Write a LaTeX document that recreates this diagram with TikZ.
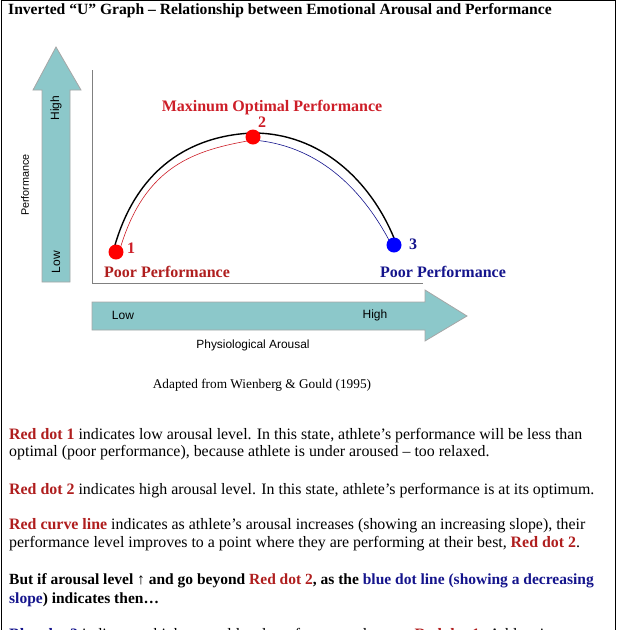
\documentclass[tikz,border=0pt]{standalone}
\usepackage{fontspec}
\setmainfont{Liberation Serif}
\newfontfamily\arial{Liberation Sans}
\definecolor{teal1}{RGB}{140,200,202}
\definecolor{rd}{RGB}{205,30,40}
\definecolor{dr}{RGB}{175,30,30}
\definecolor{bl}{RGB}{20,20,140}
\begin{document}
\begin{tikzpicture}[x=1pt,y=-1pt,
  body/.style={anchor=base west,inner sep=0,font=\fontsize{15.9}{18}\selectfont},
  lbl/.style={inner sep=0,font=\fontsize{16}{18}\selectfont\bfseries},
  sans/.style={inner sep=0,font=\arial\fontsize{12}{14}\selectfont},
  arr/.style={fill=teal1,draw=gray!70,line width=0.8pt}]
\useasboundingbox (0,0) rectangle (621,630);
\clip (0,0) rectangle (621,630);
\draw[line width=0.8pt] (1,640) -- (1,0.5) -- (615,0.5) -- (615,640);
\node[anchor=base west,inner sep=0,font=\fontsize{15.6}{18}\selectfont\bfseries] (title) at (8,14) {Inverted “U” Graph – Relationship between Emotional Arousal and Performance};
% arrows
\draw[arr] (42,282) -- (42,90) -- (33,90) -- (56,47) -- (81,90) -- (70,90) -- (70,282) -- cycle;
\draw[arr] (92,302) -- (425,302) -- (425,290) -- (467,316) -- (425,341) -- (425,330) -- (92,330) -- cycle;
\draw[gray,line width=0.8pt] (92,70) -- (92,283) -- (423,283);
\node[sans,rotate=90] (hi) at (56,108) {High};
\node[sans,rotate=90] (lo) at (56,262) {Low};
\node[sans,rotate=90,font=\arial\fontsize{10.8}{12}\selectfont] (perf) at (25,185) {Performance};
\node[sans] (xlo) at (123,315) {Low};
\node[sans] (xhi) at (375,315) {High};
\node[sans,font=\arial\fontsize{11.9}{13}\selectfont] (phys) at (253,345) {Physiological Arousal};
% curves
\coordinate (c1) at (115,245); \coordinate (c2) at (253,133); \coordinate (c3) at (394,238);
\draw[line width=1.4pt] (c1) .. controls (140,160) and (200,135) .. (c2) .. controls (320,133) and (370,180) .. (c3);
\draw[rd,line width=0.6pt] (120,249) .. controls (145,165) and (195,150) .. (253,140);
\draw[bl,line width=0.6pt] (253,140) .. controls (315,145) and (360,185) .. (390,242);
\node[circle,fill=red,inner sep=0,minimum size=15pt] (d1) at (116,252) {};
\node[circle,fill=red,inner sep=0,minimum size=15pt] (d2) at (253,137) {};
\node[circle,fill=blue,inner sep=0,minimum size=15pt] (d3) at (394,245) {};
\node[lbl,rd] (n1) at (131,248) {1};
\node[lbl,rd] (n2) at (262,122) {2};
\node[lbl,bl] (n3) at (413,244) {3};
\node[lbl,rd] (max) at (272,108) {Maxinum Optimal Performance};
\node[lbl,dr] (p1) at (167,272) {Poor Performance};
\node[lbl,bl] (p3) at (443,272) {Poor Performance};
\node[inner sep=0,font=\fontsize{13.3}{15}\selectfont] (src) at (262,385) {Adapted from Wienberg \& Gould (1995)};
% text
\node[body] (t1) at (9,439) {\textcolor{dr}{\bfseries Red dot 1} indicates low arousal level. In this state, athlete’s performance will be less than};
\node[body] (t1b) at (9,456) {optimal (poor performance), because athlete is under aroused – too relaxed.};
\node[body] (t2) at (9,494) {\textcolor{dr}{\bfseries Red dot 2} indicates high arousal level. In this state, athlete’s performance is at its optimum.};
\node[body] (t3) at (9,529) {\textcolor{dr}{\bfseries Red curve line} indicates as athlete’s arousal increases (showing an increasing slope), their};
\node[body] (t3b) at (9,547) {performance level improves to a point where they are performing at their best, \textcolor{dr}{\bfseries Red dot 2}.};
\node[body,font=\fontsize{15.5}{18}\selectfont\bfseries] (t4) at (9,584) {But if arousal level ↑ and go beyond \textcolor{dr}{Red dot 2}, as the \textcolor{bl}{blue dot line (showing a decreasing}};
\node[body,font=\fontsize{15.5}{18}\selectfont\bfseries] (t4b) at (9,603) {\textcolor{bl}{slope}) indicates then…};
\node[body] (t5) at (9,639) {\textcolor{bl}{\bfseries Blue dot 3} indicates a high arousal level, performance drops to \textcolor{dr}{\bfseries Red dot 1}. Athlete is over aroused.};
\end{tikzpicture}
\end{document}
